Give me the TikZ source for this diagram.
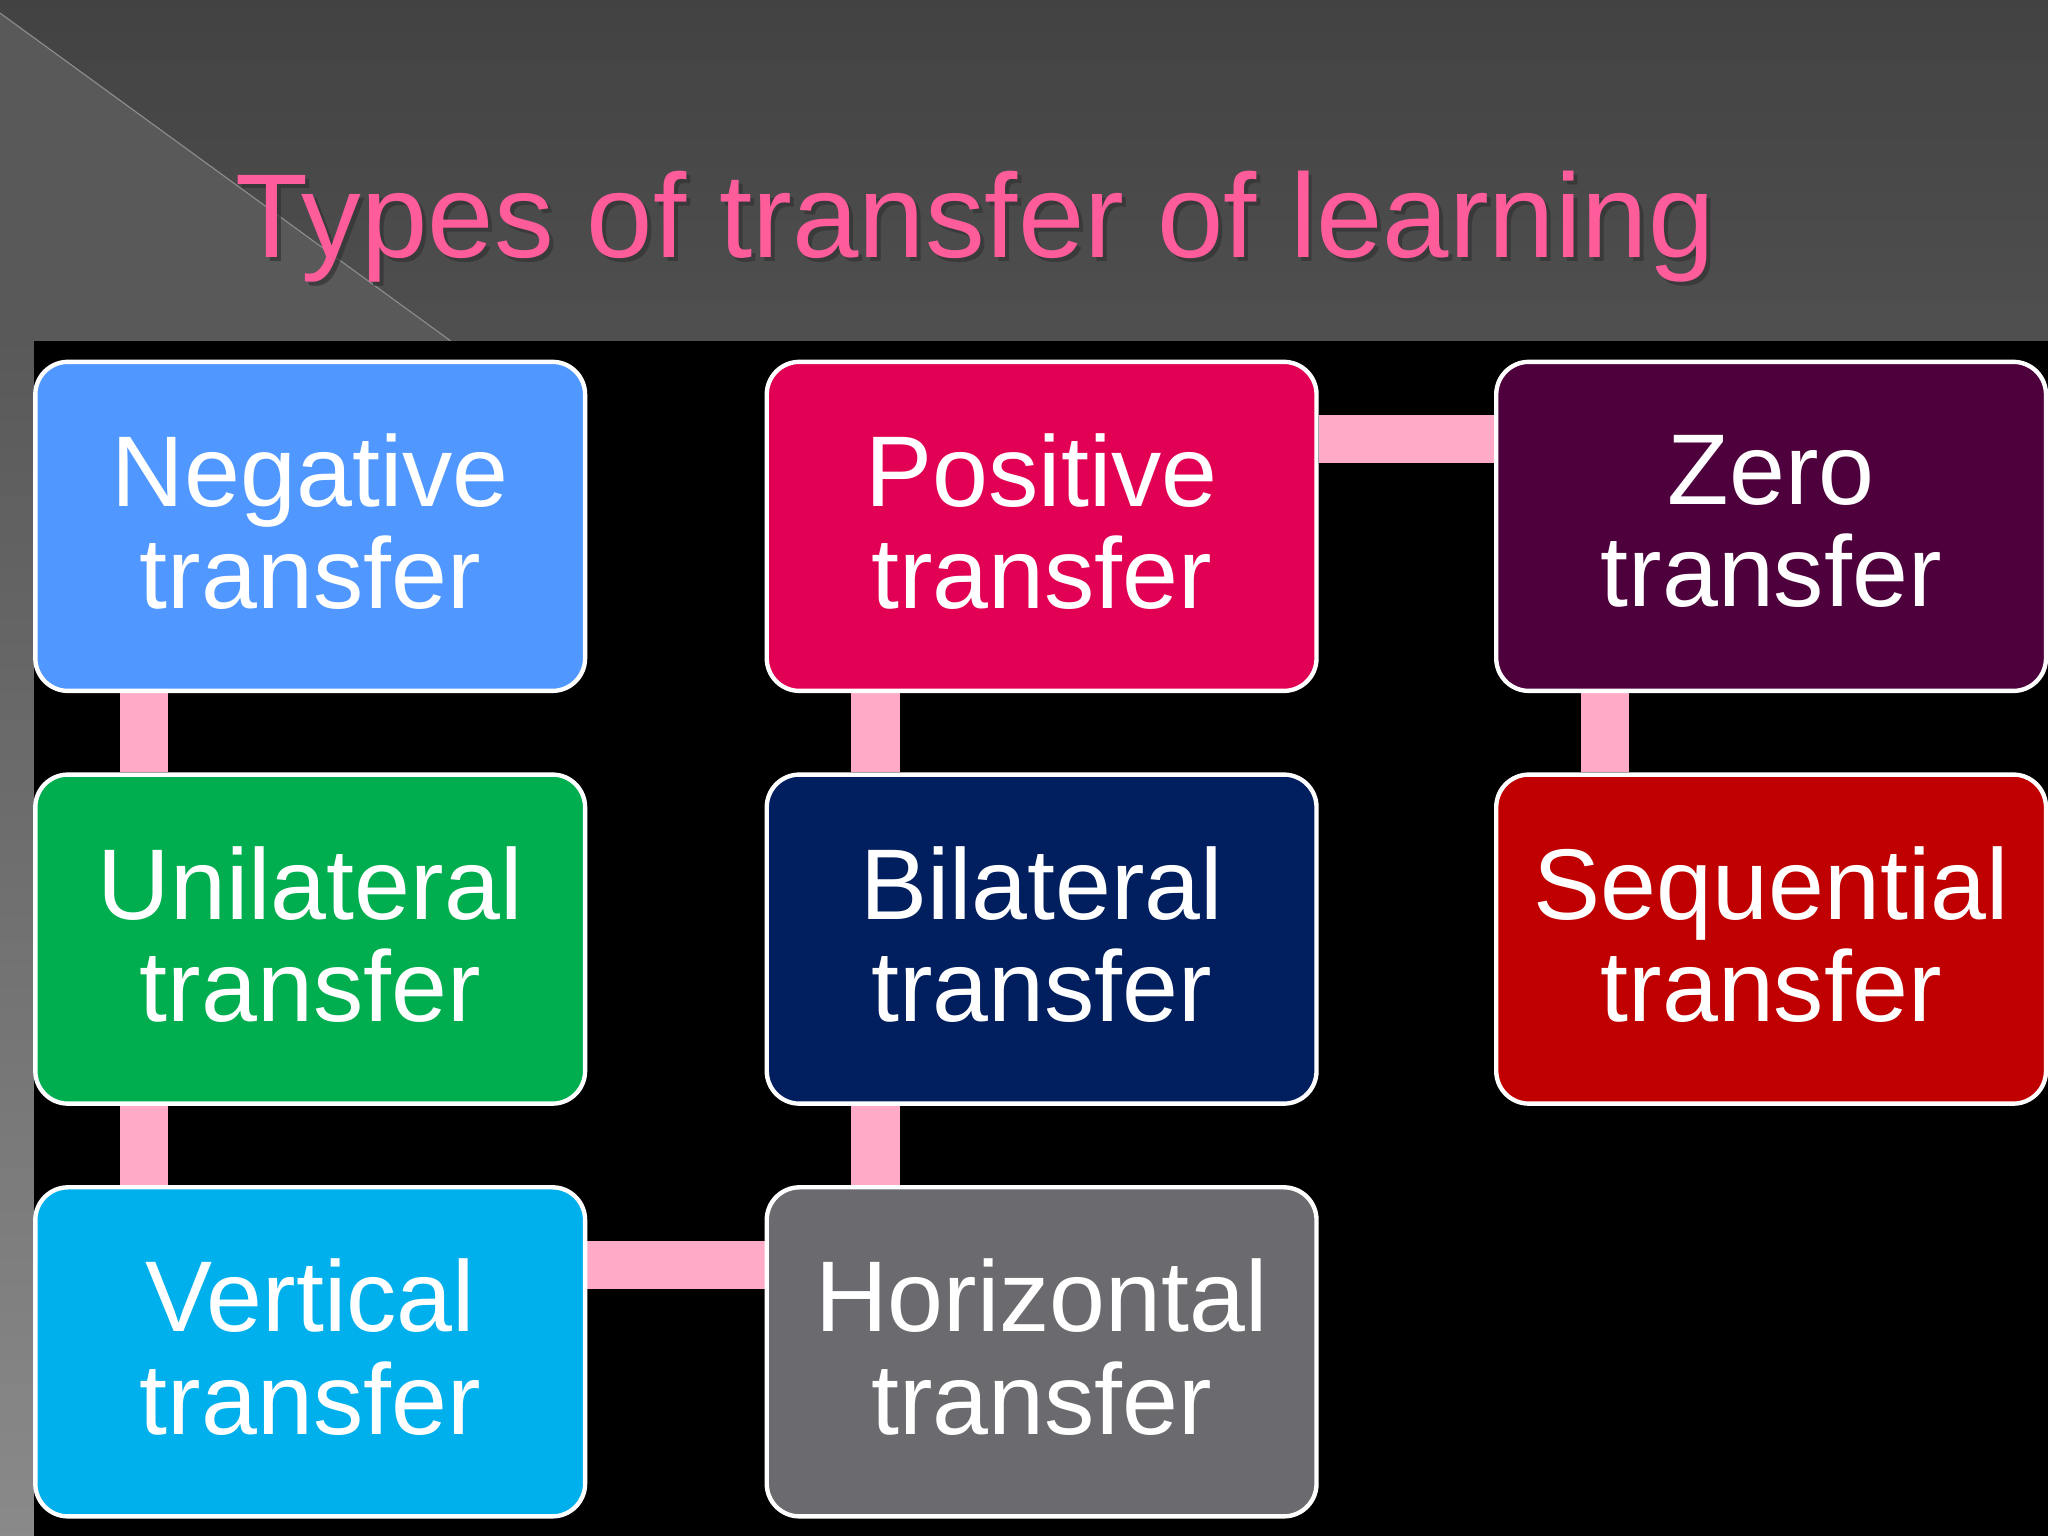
\documentclass[tikz,border=0pt]{standalone}
\usepackage{fontspec}
\setmainfont{Liberation Sans}
\usetikzlibrary{calc,backgrounds}
\definecolor{negc}{HTML}{5098FF}
\definecolor{unic}{HTML}{00AD4F}
\definecolor{verc}{HTML}{00B0EC}
\definecolor{posc}{HTML}{E20055}
\definecolor{bilc}{HTML}{011E5E}
\definecolor{horc}{HTML}{6B6A6E}
\definecolor{zerc}{HTML}{4E003C}
\definecolor{seqc}{HTML}{C00000}
\definecolor{pinkc}{HTML}{FFAAC6}
\definecolor{titlec}{HTML}{FF5C9B}
\tikzset{
  tbox/.style={draw=white, line width=1.9pt, rounded corners=0.5cm,
    minimum width=8.42cm, minimum height=5.04cm, inner sep=0pt,
    text=white, align=center, text depth=0.16cm,
    font=\fontsize{43.8}{44.6}\selectfont},
  conn/.style={draw=pinkc, line width=0.74cm}
}
\begin{document}
\begin{tikzpicture}[x=0.02cm, y=-0.02cm]
\useasboundingbox (0,0) rectangle (1568,1176);
% boxes
\node[tbox, fill=negc] (neg) at (237.5,403) {Negative\\transfer};
\node[tbox, fill=unic] (uni) at (237.5,719) {Unilateral\\transfer};
\node[tbox, fill=verc] (ver) at (237.5,1035) {Vertical\\transfer};
\node[tbox, fill=posc] (pos) at (797.5,403) {Positive\\transfer};
\node[tbox, fill=bilc] (bil) at (797.5,719) {Bilateral\\transfer};
\node[tbox, fill=horc] (hor) at (797.5,1035) {Horizontal\\transfer};
\node[tbox, fill=zerc] (zer) at (1356,403) {Zero\\transfer};
\node[tbox, fill=seqc] (seq) at (1356,719) {Sequential\\transfer};
% title
\node[anchor=base west, text=black!80, opacity=0.7, font=\fontsize{52}{52}\selectfont, inner sep=0pt] (tsh) at (183,200) {Types of transfer of learning};
\node[anchor=base west, text=titlec, font=\fontsize{52}{52}\selectfont, inner sep=0pt] (title) at (180,197) {Types of transfer of learning};
\begin{scope}[on background layer]
  % background
  \shade[top color=black!74, bottom color=black!69] (0,0) rectangle (1568,261);
  \fill[black!65] (0,10) -- (345,261) -- (0,261) -- cycle;
  \draw[black!45, line width=0.5pt] (0,10) -- (345,261);
  \shade[top color=black!65, bottom color=black!46] (0,261) rectangle (26,1176);
  \fill[black] (26,261) rectangle (1568,1176);
  % connectors
  \draw[conn] ($(neg.south west)+(85,0)$) -- ($(uni.north west)+(85,0)$);
  \draw[conn] ($(uni.south west)+(85,0)$) -- ($(ver.north west)+(85,0)$);
  \draw[conn] ($(pos.south west)+(85,0)$) -- ($(bil.north west)+(85,0)$);
  \draw[conn] ($(bil.south west)+(85,0)$) -- ($(hor.north west)+(85,0)$);
  \draw[conn] ($(zer.south west)+(85,0)$) -- ($(seq.north west)+(85,0)$);
  \draw[conn] ($(pos.north east)+(0,61)$) -- ($(zer.north west)+(0,61)$);
  \draw[conn] ($(ver.north east)+(0,61)$) -- ($(hor.north west)+(0,61)$);
\end{scope}
\end{tikzpicture}
\end{document}
